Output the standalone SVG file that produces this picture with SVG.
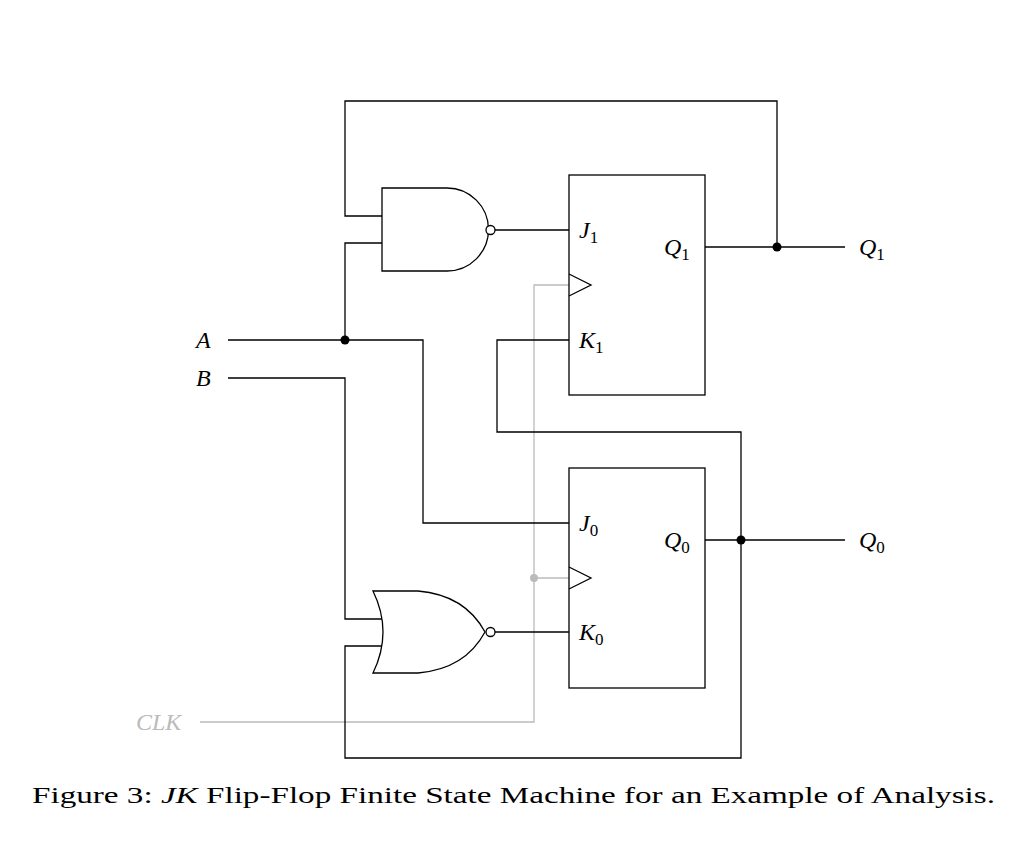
<svg xmlns="http://www.w3.org/2000/svg" width="1024" height="843" viewBox="0 0 1024 843">
<style>
.w{fill:none;stroke:#000;stroke-width:1.3}
.g{fill:none;stroke:#bbb;stroke-width:1.3}
.s{fill:#fff;stroke:#000;stroke-width:1.3}
text{font-family:"Liberation Serif","DejaVu Serif",serif;font-size:24px}
.i{font-style:italic}
.sub{font-size:17px;font-style:normal}
</style>
<rect width="1024" height="843" fill="#fff"/>
<g id="connectors">
<polyline class="g" points="200,722 534,722 534,285 569,285"/>
<line class="g" x1="534" y1="578" x2="569" y2="578"/>
<circle cx="534" cy="578" r="4" fill="#bbb"/>
<polyline class="w" points="777,247 777,101 345,101 345,216 382,216"/>
<polyline class="w" points="228,340 423,340 423,523 569,523"/>
<polyline class="w" points="345,340 345,243 382,243"/>
<polyline class="w" points="228,378 345,378 345,619 383,619"/>
<polyline class="w" points="383,646 345,646 345,758 741,758 741,432 497,432 497,340 569,340"/>
<line class="w" x1="495" y1="230" x2="569" y2="230"/>
<line class="w" x1="495" y1="632" x2="569" y2="632"/>
<line class="w" x1="705" y1="247" x2="845" y2="247"/>
<line class="w" x1="705" y1="540" x2="845" y2="540"/>
<circle cx="345" cy="340" r="4.5"/>
<circle cx="777" cy="247" r="4.5"/>
<circle cx="741" cy="540" r="4.5"/>
</g>
<g id="nand">
<path class="s" d="M382,188 H447 A41.5,41.5 0 0 1 447,271 H382 Z"/>
<circle class="s" cx="490.5" cy="230" r="4.5"/>
</g>
<g id="nor">
<path class="s" d="M373,591 H418 Q465,595 485,632 Q465,669 418,673 H373 Q393,632 373,591 Z"/>
<circle class="s" cx="490.5" cy="632" r="4.5"/>
</g>
<g id="ff1">
<rect class="w" x="569" y="175" width="136" height="220"/>
<polyline class="w" points="569,274 591,285 569,296"/>
<text x="579" y="238" class="i">J<tspan class="sub" dy="5">1</tspan></text>
<text x="579" y="348" class="i">K<tspan class="sub" dy="5">1</tspan></text>
<text x="664" y="255" class="i">Q<tspan class="sub" dy="5">1</tspan></text>
</g>
<g id="ff0">
<rect class="w" x="569" y="468" width="136" height="220"/>
<polyline class="w" points="569,567 591,578 569,589"/>
<text x="579" y="531" class="i">J<tspan class="sub" dy="5">0</tspan></text>
<text x="579" y="640" class="i">K<tspan class="sub" dy="5">0</tspan></text>
<text x="664" y="548" class="i">Q<tspan class="sub" dy="5">0</tspan></text>
</g>
<g id="labels">
<text x="196" y="348" class="i">A</text>
<text x="196" y="386" class="i">B</text>
<text x="136" y="730" class="i" fill="#bbb" font-size="25">CLK</text>
<text x="859" y="255" class="i">Q<tspan class="sub" dy="5">1</tspan></text>
<text x="859" y="548" class="i">Q<tspan class="sub" dy="5">0</tspan></text>
<text x="32" y="803" textLength="963" lengthAdjust="spacingAndGlyphs" font-size="27">Figure 3: <tspan class="i">JK</tspan> Flip-Flop Finite State Machine for an Example of Analysis.</text>
</g>
</svg>
